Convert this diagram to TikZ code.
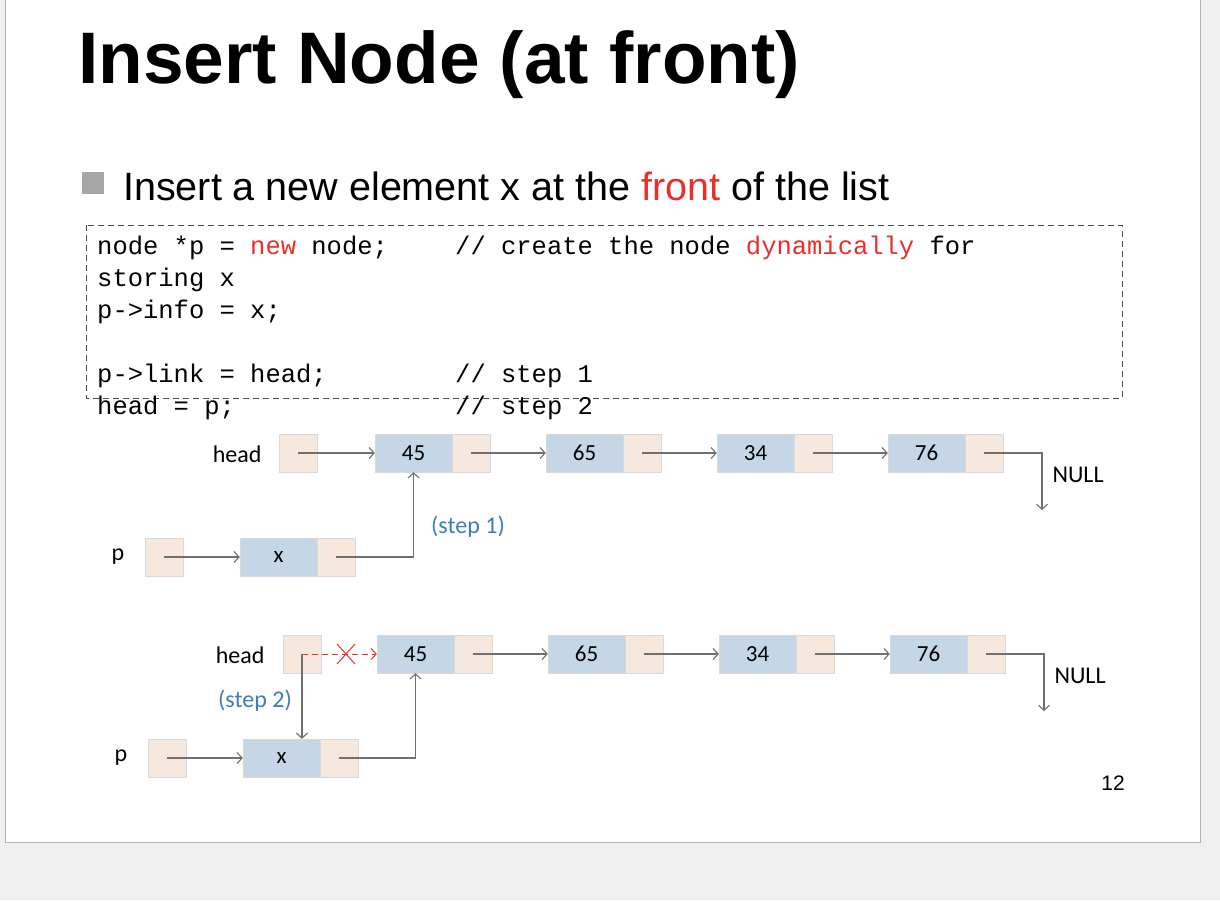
\documentclass[tikz,border=0pt]{standalone}
\usepackage{fontspec}
\setmainfont{Liberation Sans}
\newfontfamily\carfont{Carlito}
\newfontfamily\monofont{Liberation Mono}
\usetikzlibrary{arrows.meta}
\definecolor{bgray}{HTML}{F0F0F0}
\definecolor{dblue}{HTML}{C5D7E6}
\definecolor{beige}{HTML}{F6E8DC}
\definecolor{cred}{HTML}{E8302A}
\definecolor{sblue}{HTML}{3C7DC2}
\definecolor{lgray}{HTML}{707070}
\begin{document}
\begin{tikzpicture}[x=1pt,y=-1pt,
  dat/.style={draw=black!15,fill=dblue,minimum width=77pt,minimum height=38pt,inner sep=0,font=\carfont\fontsize{23}{23}\selectfont},
  ptr/.style={draw=black!15,fill=beige,minimum width=38pt,minimum height=38pt,inner sep=0},
  lab/.style={font=\carfont\fontsize{24}{24}\selectfont},
  arr/.style={draw=lgray,line width=1.1pt,-{Straight Barb[length=5pt,width=11pt]}},
  code/.style={anchor=base west,inner sep=0,font=\monofont\fontsize{25.5}{25.5}\selectfont}]
\useasboundingbox (0,0) rectangle (1220,900);
\fill[bgray] (0,0) rectangle (1220,900);
\draw[fill=white,draw=black!30] (5,-2) rectangle (1200,842);
\node[anchor=base west,inner sep=0,font=\bfseries\fontsize{73}{73}\selectfont] (title) at (78,83) {Insert Node (at front)};
\fill[black!35] (82,172) rectangle (104,194);
\node[anchor=base west,inner sep=0,font=\fontsize{39.5}{39.5}\selectfont] (bul) at (123,200) {Insert a new element x at the \textcolor{cred}{front} of the list};
\draw[dash pattern=on 6pt off 4pt,black!70] (86,225) rectangle (1122,398);
\node[code] (c1) at (97,254) {node *p = \textcolor{cred}{new} node;};
\node[code] (c1b) at (455,254) {// create the node \textcolor{cred}{dynamically} for};
\node[code] (c2) at (97,286) {storing x};
\node[code] (c3) at (97,318) {p->info = x;};
\node[code] (c4) at (97,382) {p->link = head;};
\node[code] (c4b) at (455,382) {// step 1};
\node[code] (c5) at (97,414) {head = p;};
\node[code] (c5b) at (455,414) {// step 2};
% top row
\node[lab,anchor=east] (hl1) at (265,454) {head};
\node[ptr] (h1) at (298,453) {};
\node[dat] (a1) at (413.5,453) {45}; \node[ptr] (a1p) at (471,453) {};
\node[dat] (b1) at (584.5,453) {65}; \node[ptr] (b1p) at (642,453) {};
\node[dat] (c1n) at (755.5,453) {34}; \node[ptr] (c1p) at (813,453) {};
\node[dat] (d1) at (926.5,453) {76}; \node[ptr] (d1p) at (984,453) {};
\coordinate (n1) at (1042,510);
\node[lab,anchor=west] (nl1) at (1049,475) {NULL};
\draw[arr] (h1.center) -- (a1.west);
\draw[arr] (a1p.center) -- (b1.west);
\draw[arr] (b1p.center) -- (c1n.west);
\draw[arr] (c1p.center) -- (d1.west);
\draw[arr] (d1p.center) -| (n1);
\node[lab] (pl1) at (118,557) {p};
\node[ptr] (p1) at (164,557) {};
\node[dat] (x1) at (278.5,557) {x}; \node[ptr] (x1p) at (336,557) {};
\draw[arr] (p1.center) -- (x1.west);
\draw[arr] (x1p.center) -| (a1.south);
\node[lab,text=sblue] (s1) at (468,527) {(step 1)};
% bottom row
\node[lab,anchor=east] (hl2) at (268,655) {head};
\node[ptr] (h2) at (302,654) {};
\node[dat] (a2) at (415.5,654) {45}; \node[ptr] (a2p) at (473,654) {};
\node[dat] (b2) at (586.5,654) {65}; \node[ptr] (b2p) at (644,654) {};
\node[dat] (c2n) at (757.5,654) {34}; \node[ptr] (c2p) at (815,654) {};
\node[dat] (d2) at (928.5,654) {76}; \node[ptr] (d2p) at (986,654) {};
\coordinate (n2) at (1044,711);
\node[lab,anchor=west] (nl2) at (1051,676) {NULL};
\draw[arr] (a2p.center) -- (b2.west);
\draw[arr] (b2p.center) -- (c2n.west);
\draw[arr] (c2p.center) -- (d2.west);
\draw[arr] (d2p.center) -| (n2);
\draw[arr,draw=cred,dash pattern=on 6pt off 4pt,line width=1pt] (h2.center) -- (a2.west);
\draw[cred,line width=1pt] (337,644) -- (355,664) (337,664) -- (355,644);
\node[lab] (pl2) at (121,758) {p};
\node[ptr] (p2) at (167,758) {};
\node[dat] (x2) at (281.5,758) {x}; \node[ptr] (x2p) at (339,758) {};
\draw[arr] (p2.center) -- (x2.west);
\draw[arr] (x2p.center) -| (a2.south);
\draw[arr] (h2.center) -- (h2.center |- x2.north);
\node[lab,text=sblue] (s2) at (255,701) {(step 2)};
\node[font=\fontsize{21}{21}\selectfont] (pg) at (1113,783) {12};
\end{tikzpicture}
\end{document}
